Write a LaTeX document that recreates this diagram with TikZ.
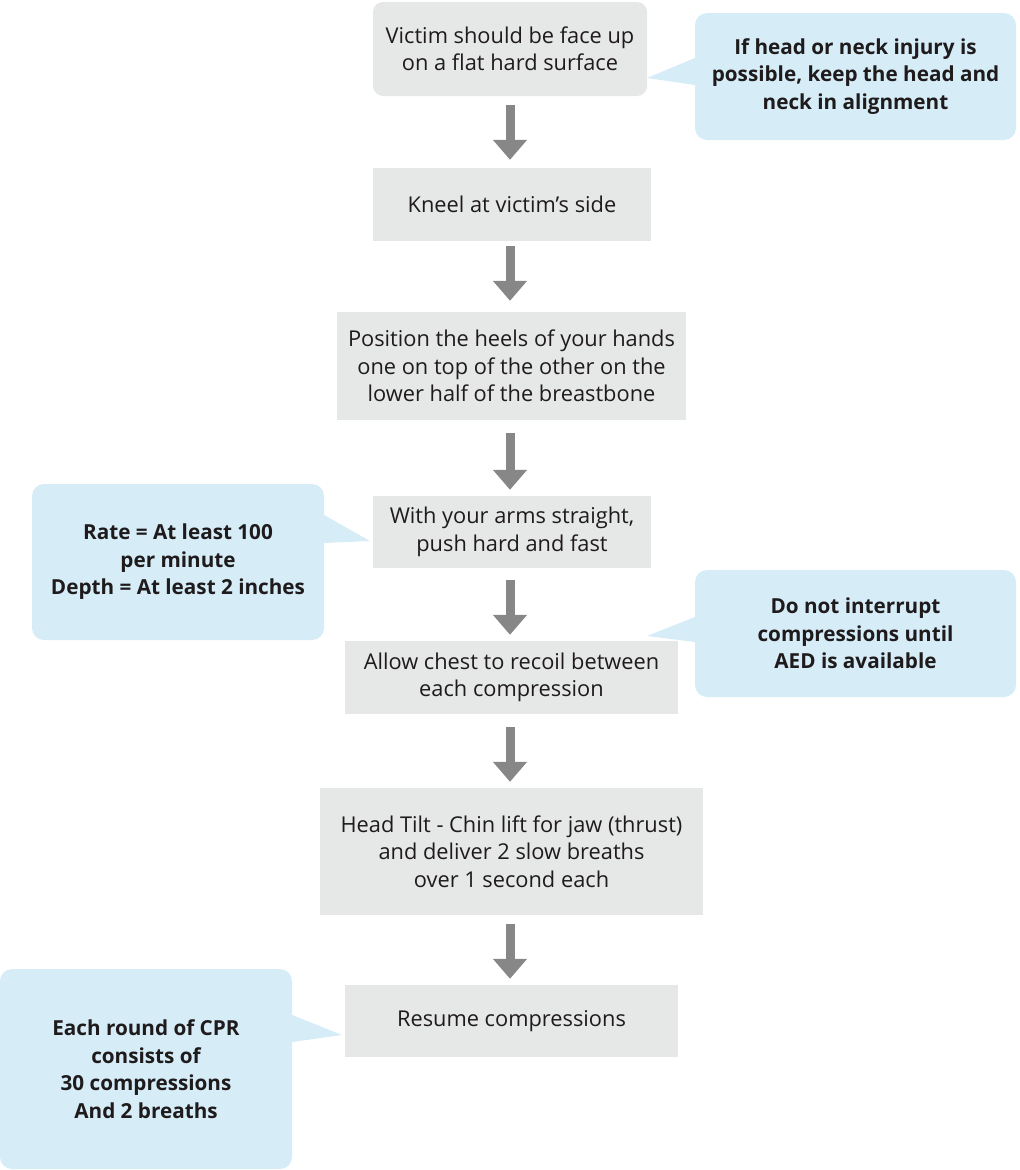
\documentclass[tikz,border=0pt]{standalone}
\usepackage{fontspec}
\setmainfont{Open Sans}
\usepackage{xcolor}
\usepackage{tikz}
\usetikzlibrary{arrows.meta, positioning}
\definecolor{boxgray}{HTML}{E6E7E7}
\definecolor{noteblue}{HTML}{D6EDF8}
\definecolor{arrowgray}{HTML}{878787}
\definecolor{textdark}{HTML}{1F1B1C}
\tikzstyle{stepbox} = [fill=boxgray,text=textdark,align=center,inner sep=0pt,font=\fontsize{21.8}{27.5}\selectfont]
\tikzstyle{notebox} = [fill=noteblue,rounded corners=12pt,text=textdark,align=center,inner sep=0pt,font=\fontsize{20.7}{27.5}\selectfont\bfseries]
\tikzstyle{flowarrow} = [draw=arrowgray,line width=9pt,-{Triangle[width=33pt,length=20pt,fill=arrowgray]},shorten <=9pt,shorten >=8pt]
\tikzstyle{pointer} = [fill=noteblue]

\begin{document}
\begin{tikzpicture}[x=1pt,y=-1pt]
				\useasboundingbox (0,0) rectangle (1020,1170);
				
				% Steps:
				% The main column, one box per step
				\node[stepbox,rounded corners=10pt,minimum width=274pt,minimum height=94pt] (victim) at (510,49) {Victim should be face up\\on a flat hard surface};
				\node[stepbox,minimum width=278pt,minimum height=73pt] (kneel) at (512,204.5) {Kneel at victim’s side};
				\node[stepbox,minimum width=349pt,minimum height=108pt] (heels) at (511.5,366) {Position the heels of your hands\\one on top of the other on the\\lower half of the breastbone};
				\node[stepbox,minimum width=278pt,minimum height=72pt] (push) at (512,532) {With your arms straight,\\push hard and fast};
				\node[stepbox,minimum width=333pt,minimum height=73pt] (recoil) at (511.5,677.5) {Allow chest to recoil between\\each compression};
				\node[stepbox,minimum width=383pt,minimum height=127pt] (tilt) at (511.5,851.5) {Head Tilt - Chin lift for jaw (thrust)\\and deliver 2 slow breaths\\over 1 second each};
				\node[stepbox,minimum width=333pt,minimum height=72pt] (resume) at (511.5,1021) {Resume compressions};
				
				% Arrows between the steps:
				\draw[flowarrow] (victim.south) -- (victim.south |- kneel.north);
				\draw[flowarrow,shorten <=5pt,shorten >=11pt] (victim.south |- kneel.south) -- (victim.south |- heels.north);
				\draw[flowarrow,shorten <=13pt,shorten >=6pt] (victim.south |- heels.south) -- (victim.south |- push.north);
				\draw[flowarrow,shorten <=12pt,shorten >=6pt] (victim.south |- push.south) -- (victim.south |- recoil.north);
				\draw[flowarrow,shorten <=13pt,shorten >=6pt] (victim.south |- recoil.south) -- (victim.south |- tilt.north);
				\draw[flowarrow,shorten <=9pt,shorten >=6pt] (victim.south |- tilt.south) -- (victim.south |- resume.north);
				
				% Notes:
				% Blue callouts, the pointer ends at a named coordinate next to the step
				\node[notebox,minimum width=321pt,minimum height=127pt] (neck) at (855.5,76.5) {If head or neck injury is\\possible, keep the head and\\neck in alignment};
				\node[notebox,minimum width=292pt,minimum height=156pt] (rate) at (178,562) {Rate = At least 100\\per minute\\Depth = At least 2 inches};
				\node[notebox,minimum width=321pt,minimum height=127pt] (aed) at (855.5,633.5) {Do not interrupt\\compressions until\\AED is available};
				\node[notebox,minimum width=292pt,minimum height=200pt] (round) at (146,1069) {Each round of CPR\\consists of\\30 compressions\\And 2 breaths};
				
				\coordinate (neck tip) at (647,78);
				\coordinate (rate tip) at (370,541);
				\coordinate (aed tip) at (647,636);
				\coordinate (round tip) at (342,1035);
				
				\fill[pointer] ([yshift=18.5pt]neck.west) -- (neck tip) -- ([yshift=-8.5pt]neck.west) -- cycle;
				\fill[pointer] ([yshift=47pt]rate.east) -- (rate tip) -- ([yshift=19pt]rate.east) -- cycle;
				\fill[pointer] ([yshift=16.5pt]aed.west) -- (aed tip) -- ([yshift=-8.5pt]aed.west) -- cycle;
				\fill[pointer] ([yshift=54pt]round.east) -- (round tip) -- ([yshift=27pt]round.east) -- cycle;
\end{tikzpicture}
\end{document}
